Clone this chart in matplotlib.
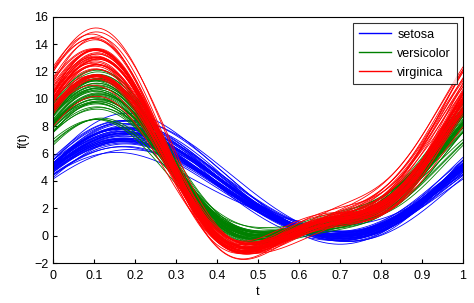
import numpy as np
import matplotlib
matplotlib.use("Agg")
import matplotlib.pyplot as plt

# Iris data per species: sepal length, sepal width, petal length, petal width
setosa_sl = [5.1,4.9,4.7,4.6,5.0,5.4,4.6,5.0,4.4,4.9,5.4,4.8,4.8,4.3,5.8,5.7,5.4,5.1,5.7,5.1,
             5.4,5.1,4.6,5.1,4.8,5.0,5.0,5.2,5.2,4.7,4.8,5.4,5.2,5.5,4.9,5.0,5.5,4.9,4.4,5.1,
             5.0,4.5,4.4,5.0,5.1,4.8,5.1,4.6,5.3,5.0]
setosa_sw = [3.5,3.0,3.2,3.1,3.6,3.9,3.4,3.4,2.9,3.1,3.7,3.4,3.0,3.0,4.0,4.4,3.9,3.5,3.8,3.8,
             3.4,3.7,3.6,3.3,3.4,3.0,3.4,3.5,3.4,3.2,3.1,3.4,4.1,4.2,3.1,3.2,3.5,3.6,3.0,3.4,
             3.5,2.3,3.2,3.5,3.8,3.0,3.8,3.2,3.7,3.3]
setosa_pl = [1.4,1.4,1.3,1.5,1.4,1.7,1.4,1.5,1.4,1.5,1.5,1.6,1.4,1.1,1.2,1.5,1.3,1.4,1.7,1.5,
             1.7,1.5,1.0,1.7,1.9,1.6,1.6,1.5,1.4,1.6,1.6,1.5,1.5,1.4,1.5,1.2,1.3,1.4,1.3,1.5,
             1.3,1.3,1.3,1.6,1.9,1.4,1.6,1.4,1.5,1.4]
setosa_pw = [0.2,0.2,0.2,0.2,0.2,0.4,0.3,0.2,0.2,0.1,0.2,0.2,0.1,0.1,0.2,0.4,0.4,0.3,0.3,0.3,
             0.2,0.4,0.2,0.5,0.2,0.2,0.4,0.2,0.2,0.2,0.2,0.4,0.1,0.2,0.2,0.2,0.2,0.1,0.2,0.2,
             0.3,0.3,0.2,0.6,0.4,0.3,0.2,0.2,0.2,0.2]

versicolor_sl = [7.0,6.4,6.9,5.5,6.5,5.7,6.3,4.9,6.6,5.2,5.0,5.9,6.0,6.1,5.6,6.7,5.6,5.8,6.2,5.6,
                 5.9,6.1,6.3,6.1,6.4,6.6,6.8,6.7,6.0,5.7,5.5,5.5,5.8,6.0,5.4,6.0,6.7,6.3,5.6,5.5,
                 5.5,6.1,5.8,5.0,5.6,5.7,5.7,6.2,5.1,5.7]
versicolor_sw = [3.2,3.2,3.1,2.3,2.8,2.8,3.3,2.4,2.9,2.7,2.0,3.0,2.2,2.9,2.9,3.1,3.0,2.7,2.2,2.5,
                 3.2,2.8,2.5,2.8,2.9,3.0,2.8,3.0,2.9,2.6,2.4,2.4,2.7,2.7,3.0,3.4,3.1,2.3,3.0,2.5,
                 2.6,3.0,2.6,2.3,2.7,3.0,2.9,2.9,2.5,2.8]
versicolor_pl = [4.7,4.5,4.9,4.0,4.6,4.5,4.7,3.3,4.6,3.9,3.5,4.2,4.0,4.7,3.6,4.4,4.5,4.1,4.5,3.9,
                 4.8,4.0,4.9,4.7,4.3,4.4,4.8,5.0,4.5,3.5,3.8,3.7,3.9,5.1,4.5,4.5,4.7,4.4,4.1,4.0,
                 4.4,4.6,4.0,3.3,4.2,4.2,4.2,4.3,3.0,4.1]
versicolor_pw = [1.4,1.5,1.5,1.3,1.5,1.3,1.6,1.0,1.3,1.4,1.0,1.5,1.0,1.4,1.3,1.4,1.5,1.0,1.5,1.1,
                 1.8,1.3,1.5,1.2,1.3,1.4,1.4,1.7,1.5,1.0,1.1,1.0,1.2,1.6,1.5,1.6,1.5,1.3,1.3,1.3,
                 1.2,1.4,1.2,1.0,1.3,1.2,1.3,1.3,1.1,1.3]

virginica_sl = [6.3,5.8,7.1,6.3,6.5,7.6,4.9,7.3,6.7,7.2,6.5,6.4,6.8,5.7,5.8,6.4,6.5,7.7,7.7,6.0,
                6.9,5.6,7.7,6.3,6.7,7.2,6.2,6.1,6.4,7.2,7.4,7.9,6.4,6.3,6.1,7.7,6.3,6.4,6.0,6.9,
                6.7,6.9,5.8,6.8,6.7,6.7,6.3,6.5,6.2,5.9]
virginica_sw = [3.3,2.7,3.0,2.9,3.0,3.0,2.5,2.9,2.5,3.6,3.2,2.7,3.0,2.5,2.8,3.2,3.0,3.8,2.6,2.2,
                3.2,2.8,2.8,2.7,3.3,3.2,2.8,3.0,2.8,3.0,2.8,3.8,2.8,2.8,2.6,3.0,3.4,3.1,3.0,3.1,
                3.1,3.1,2.7,3.2,3.3,3.0,2.5,3.0,3.4,3.0]
virginica_pl = [6.0,5.1,5.9,5.6,5.8,6.6,4.5,6.3,5.8,6.1,5.1,5.3,5.5,5.0,5.1,5.3,5.5,6.7,6.9,5.0,
                5.7,4.9,6.7,4.9,5.7,6.0,4.8,4.9,5.6,5.8,6.1,6.4,5.6,5.1,5.6,6.1,5.6,5.5,4.8,5.4,
                5.6,5.1,5.1,5.9,5.7,5.2,5.0,5.2,5.4,5.1]
virginica_pw = [2.5,1.9,2.1,1.8,2.2,2.1,1.7,1.8,1.8,2.5,2.0,1.9,2.1,2.0,2.4,2.3,1.8,2.2,2.3,1.5,
                2.3,2.0,2.0,1.8,2.1,1.8,1.8,1.8,2.1,1.6,1.9,2.0,2.2,1.5,1.4,2.3,2.4,1.8,1.8,2.1,
                2.4,2.3,1.9,2.3,2.5,2.3,1.9,2.0,2.3,1.8]

species = ["setosa", "versicolor", "virginica"]
colors = ["#0000ff", "#008000", "#ff0000"]
x_ticks = [0, 0.1, 0.2, 0.3, 0.4, 0.5, 0.6, 0.7, 0.8, 0.9, 1]
x_ticklabels = ["0", "0.1", "0.2", "0.3", "0.4", "0.5", "0.6", "0.7", "0.8", "0.9", "1"]
y_ticks = [-2, 0, 2, 4, 6, 8, 10, 12, 14, 16]

data = {
    "setosa": np.array([setosa_sl, setosa_sw, setosa_pl, setosa_pw]).T,
    "versicolor": np.array([versicolor_sl, versicolor_sw, versicolor_pl, versicolor_pw]).T,
    "virginica": np.array([virginica_sl, virginica_sw, virginica_pl, virginica_pw]).T,
}

t = np.linspace(0, 1, 300)
basis = np.vstack([np.full_like(t, 1 / np.sqrt(2)), np.sin(2 * np.pi * t),
                   np.cos(2 * np.pi * t), np.sin(4 * np.pi * t)])

plt.rcParams['font.family'] = ['Arial', 'Liberation Sans', 'DejaVu Sans']
fig = plt.figure(figsize=(4.74, 3.03), dpi=100)
ax = fig.add_axes([53 / 474, 1 - 263 / 303, 410 / 474, 246 / 303])

handles = []
for name, c in zip(species, colors):
    curves = data[name] @ basis
    lines = ax.plot(t, curves.T, color=c, lw=0.6)
    handles.append(lines[0])

ax.set_xlim(0, 1)
ax.set_ylim(-2, 16)
ax.set_xticks(x_ticks)
ax.set_xticklabels(x_ticklabels)
ax.set_yticks(y_ticks)
ax.tick_params(direction='in', length=3, labelsize=9, top=False, right=False, width=0.8)
ax.tick_params(axis='x', pad=5)
ax.set_xlabel("t", fontsize=9, labelpad=3)
ax.set_ylabel("f(t)", fontsize=9, labelpad=3)
for s in ax.spines.values():
    s.set_linewidth(0.8)

leg = ax.legend(handles, species, loc='upper right', fontsize=9, frameon=True, fancybox=False,
                edgecolor='black', borderaxespad=0.5, handlelength=2.6, handletextpad=0.5,
                labelspacing=0.55, borderpad=0.45)
leg.get_frame().set_linewidth(0.8)
for h in leg.get_lines():
    h.set_linewidth(1.0)

fig.savefig("out.png", dpi=100)
